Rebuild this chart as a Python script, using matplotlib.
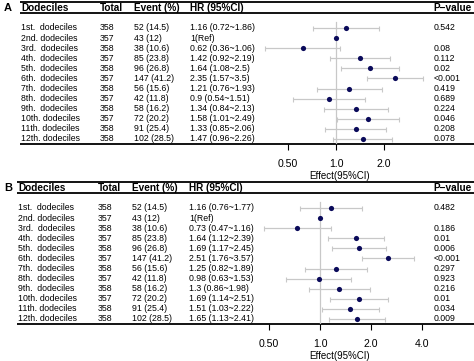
import numpy as np
import matplotlib
matplotlib.use("Agg")
import matplotlib.pyplot as plt

plt.rcParams['font.family'] = ['Liberation Sans', 'DejaVu Sans']

labels = ["1st.  dodeciles", "2nd. dodeciles", "3rd.  dodeciles", "4th.  dodeciles",
          "5th.  dodeciles", "6th.  dodeciles", "7th.  dodeciles", "8th.  dodeciles",
          "9th.  dodeciles", "10th. dodeciles", "11th. dodeciles", "12th. dodeciles"]
totals = [358, 357, 358, 357, 358, 357, 358, 357, 358, 357, 358, 358]
events = ["52 (14.5)", "43 (12)", "38 (10.6)", "85 (23.8)", "96 (26.8)", "147 (41.2)",
          "56 (15.6)", "42 (11.8)", "58 (16.2)", "72 (20.2)", "91 (25.4)", "102 (28.5)"]

# Panel A
hr_a = [1.16, 1.0, 0.62, 1.42, 1.64, 2.35, 1.21, 0.90, 1.34, 1.58, 1.33, 1.47]
lo_a = [0.72, np.nan, 0.36, 0.92, 1.08, 1.57, 0.76, 0.54, 0.84, 1.01, 0.85, 0.96]
hi_a = [1.86, np.nan, 1.06, 2.19, 2.50, 3.50, 1.93, 1.51, 2.13, 2.49, 2.06, 2.26]
hrtxt_a = ["1.16 (0.72~1.86)", "1(Ref)", "0.62 (0.36~1.06)", "1.42 (0.92~2.19)",
           "1.64 (1.08~2.5)", "2.35 (1.57~3.5)", "1.21 (0.76~1.93)", "0.9 (0.54~1.51)",
           "1.34 (0.84~2.13)", "1.58 (1.01~2.49)", "1.33 (0.85~2.06)", "1.47 (0.96~2.26)"]
p_a = ["0.542", "", "0.08", "0.112", "0.02", "<0.001", "0.419", "0.689", "0.224",
       "0.046", "0.208", "0.078"]
ticks_a = [0.5, 1.0, 2.0]
ticklabels_a = ["0.50", "1.0", "2.0"]

# Panel B
hr_b = [1.16, 1.0, 0.73, 1.64, 1.69, 2.51, 1.25, 0.98, 1.30, 1.69, 1.51, 1.65]
lo_b = [0.76, np.nan, 0.47, 1.12, 1.17, 1.76, 0.82, 0.63, 0.86, 1.14, 1.03, 1.13]
hi_b = [1.77, np.nan, 1.16, 2.39, 2.45, 3.57, 1.89, 1.53, 1.98, 2.51, 2.22, 2.41]
hrtxt_b = ["1.16 (0.76~1.77)", "1(Ref)", "0.73 (0.47~1.16)", "1.64 (1.12~2.39)",
           "1.69 (1.17~2.45)", "2.51 (1.76~3.57)", "1.25 (0.82~1.89)", "0.98 (0.63~1.53)",
           "1.3 (0.86~1.98)", "1.69 (1.14~2.51)", "1.51 (1.03~2.22)", "1.65 (1.13~2.41)"]
p_b = ["0.482", "", "0.186", "0.01", "0.006", "<0.001", "0.297", "0.923", "0.216",
       "0.01", "0.034", "0.009"]
ticks_b = [0.5, 1.0, 2.0, 4.0]
ticklabels_b = ["0.50", "1.0", "2.0", "4.0"]

W, H = 474, 361
fig = plt.figure(figsize=(W / 100, H / 100), dpi=100)
bg = fig.add_axes([0, 0, 1, 1])
bg.set_xlim(0, W)
bg.set_ylim(H, 0)
bg.axis('off')

ROW = 10.09
FS = 6.3
HFS = 7.2
DOT = '#0a0a5a'
CI = '#c8c8c8'


def panel(letter, y0, cols, hr, lo, hi, hrtxt, pv, ticks, ticklabels, one_px, per_dbl):
    # y0: pixel of top thick line
    top, hline, first, bottom = y0, y0 + 11, y0 + 26, y0 + 142
    bg.text(4, top + 6, letter, fontsize=8, fontweight='bold', ha='left', va='center')
    bg.plot([cols[0] - 1, W], [top, top], color='black', lw=1.3, solid_capstyle='butt')
    bg.plot([cols[0] - 1, W], [hline, hline], color='black', lw=1.3, solid_capstyle='butt')
    bg.plot([cols[0] - 1, W], [bottom, bottom], color='black', lw=1.3, solid_capstyle='butt')
    hy = top + 5.6
    for x, t in zip(cols, ["Dodeciles", "Total", "Event (%)", "HR (95%CI)"]):
        bg.text(x, hy, t, fontsize=HFS, fontweight='bold', ha='left', va='center')
    bg.text(472, hy, "P\u2212value", fontsize=HFS, fontweight='bold', ha='right', va='center')
    for i in range(12):
        y = first + ROW * i
        bg.text(cols[0], y, labels[i], fontsize=FS, ha='left', va='center')
        bg.text(cols[1], y, str(totals[i]), fontsize=FS, ha='left', va='center')
        bg.text(cols[2], y, events[i], fontsize=FS, ha='left', va='center')
        bg.text(cols[3], y, hrtxt[i], fontsize=FS, ha='left', va='center')
        bg.text(434, y, pv[i], fontsize=FS, ha='left', va='center')

    # forest axes, pixel box
    xl, xr = 240, 440
    ax = fig.add_axes([xl / W, 1 - bottom / H, (xr - xl) / W, (bottom - hline) / H])
    ax.set_xscale('log')
    ax.set_xlim(2 ** ((xl - one_px) / per_dbl), 2 ** ((xr - one_px) / per_dbl))
    ax.set_ylim((bottom - first) / ROW, (hline - first) / ROW)
    ax.patch.set_alpha(0)
    for s in ax.spines.values():
        s.set_visible(False)
    idx = np.arange(12)
    ax.axvline(1.0, ymin=0, ymax=(bottom - (first - 6)) / (bottom - hline), color='#c8c8c8', lw=0.9, zorder=1)
    m = ~np.isnan(np.array(lo))
    ax.errorbar(np.array(hr)[m], idx[m],
                xerr=[np.array(hr)[m] - np.array(lo)[m], np.array(hi)[m] - np.array(hr)[m]],
                fmt='none', ecolor=CI, elinewidth=0.9, capsize=1.8, capthick=0.8, zorder=2)
    ax.scatter(hr, idx, s=14, color=DOT, zorder=3, linewidths=0)
    ax.set_yticks([])
    ax.set_xticks(ticks)
    ax.set_xticklabels(ticklabels, fontsize=7.6)
    ax.minorticks_off()
    ax.tick_params(axis='x', direction='out', length=4, width=0.8, pad=7)
    ax.set_xlabel("Effect(95%CI)", fontsize=7, labelpad=1.5)


panel("A", 2, [21, 100, 134, 190], hr_a, lo_a, hi_a, hrtxt_a, p_a, ticks_a, ticklabels_a, 336, 48)
panel("B", 182, [18, 98, 132, 189], hr_b, lo_b, hi_b, hrtxt_b, p_b, ticks_b, ticklabels_b, 320, 51)

fig.savefig("out.png", dpi=100)
